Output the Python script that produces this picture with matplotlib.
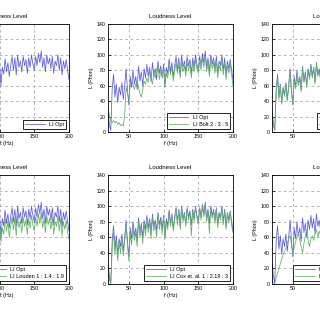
import numpy as np
import matplotlib
matplotlib.use("Agg")
import matplotlib.pyplot as plt

plt.rcParams['font.family'] = ['Liberation Sans', 'DejaVu Sans']

# frequencies, 2 Hz steps
f = np.arange(20, 201, 2)

li_opt = [28, 10, 2, 55, 75, 45, 62, 38, 58, 48, 64, 42, 60, 82, 55, 35, 72, 58, 80, 62,
          72, 55, 85, 66, 78, 60, 82, 70, 88, 72, 84, 65, 90, 74, 82, 68, 92, 76, 86, 70,
          88, 60, 84, 75, 95, 78, 90, 72, 86, 98, 80, 96, 74, 100, 84, 92, 78, 98, 86, 94,
          76, 96, 84, 100, 88, 80, 98, 86, 102, 90, 105, 84, 96, 78, 100, 88, 96, 82, 98, 76,
          92, 86, 100, 80, 96, 74, 92, 82, 94, 80, 68]

li_bolt = [30, 22, 15, 12, 15, 12, 14, 10, 12, 8, 10, 8, 22, 58, 50, 42, 60, 66, 62, 55,
           62, 66, 58, 50, 45, 55, 66, 62, 70, 64, 80, 70, 62, 76, 70, 82, 86, 68, 80, 72,
           82, 58, 76, 70, 88, 74, 84, 66, 80, 90, 76, 88, 70, 92, 78, 86, 72, 90, 80, 88,
           70, 90, 78, 94, 82, 76, 92, 80, 96, 84, 98, 78, 90, 72, 94, 82, 90, 76, 92, 70,
           86, 80, 94, 74, 90, 68, 86, 76, 88, 74, 60]

li_louden = [22, 8, 2, 40, 58, 32, 48, 28, 46, 36, 52, 32, 50, 68, 45, 28, 58, 46, 66, 50,
             60, 44, 72, 55, 65, 48, 70, 58, 75, 60, 72, 54, 78, 62, 70, 56, 80, 64, 74, 58,
             78, 54, 72, 64, 84, 68, 80, 60, 74, 86, 70, 84, 62, 88, 72, 82, 66, 86, 74, 82,
             64, 84, 72, 88, 76, 68, 86, 74, 90, 78, 92, 72, 84, 66, 88, 76, 84, 70, 86, 64,
             80, 74, 88, 68, 84, 62, 80, 70, 82, 66, 58]

li_cox = [20, 5, 0, 45, 68, 38, 56, 30, 52, 40, 58, 36, 55, 76, 50, 30, 66, 50, 74, 56,
          66, 48, 80, 60, 72, 52, 78, 62, 84, 66, 80, 58, 86, 68, 78, 60, 90, 70, 82, 64,
          86, 58, 80, 70, 92, 74, 88, 68, 82, 96, 76, 94, 70, 98, 80, 90, 74, 96, 82, 92,
          62, 94, 80, 98, 86, 76, 96, 82, 100, 86, 102, 80, 92, 65, 98, 84, 94, 78, 96, 72,
          90, 82, 98, 76, 94, 70, 90, 78, 92, 76, 66]

li_right_top = [24, 8, 4, 50, 70, 42, 60, 36, 56, 46, 62, 40, 58, 78, 52, 38, 68, 56, 76, 60,
                70, 52, 82, 64, 76, 58, 80, 68, 86, 70, 82, 62, 88, 72, 80, 66, 90, 74, 84, 68,
                86, 60, 82, 72, 92, 76, 88, 70, 84, 96, 78, 94, 72, 98, 82, 90, 76, 96, 84, 92,
                74, 94, 82, 98, 86, 78, 96, 84, 100, 88, 102, 82, 94, 76, 98, 86, 94, 80, 96, 74,
                90, 84, 98, 78, 94, 72, 90, 80, 92, 78, 66]

li_right_bot = [5, 2, 0, 8, 14, 20, 26, 32, 38, 42, 46, 52, 58, 62, 50, 40, 46, 54, 60, 66,
                56, 48, 40, 52, 62, 70, 56, 48, 58, 62, 56, 64, 70, 60, 68, 62, 76, 64, 72, 60,
                76, 56, 70, 64, 80, 68, 78, 62, 74, 84, 70, 82, 64, 86, 72, 80, 68, 84, 74, 80,
                66, 82, 74, 86, 76, 70, 84, 74, 88, 78, 90, 74, 84, 68, 86, 76, 82, 70, 84, 66,
                80, 74, 86, 70, 82, 64, 80, 72, 82, 68, 60]

panels = [
    (None, None),
    (li_bolt, 'LI Bolt 2 : 3 : 5'),
    (li_right_top, 'LI Zwicker 1 : 2.2 : 3'),
    (li_louden, 'LI Louden 1 : 1.4 : 1.9'),
    (li_cox, 'LI Cox et. al. 1 : 2.19 : 3'),
    (li_right_bot, 'LI Stevens et. al. 1 : 2.25 : 3.4'),
]

blue = '#5a5ae0'
green = '#62b062'

fig = plt.figure(figsize=(3.2, 3.2), dpi=100)
W, H = 320.0, 320.0
col_x = [-56, 108, 272]
row_y = [(24, 132), (175, 284)]
aw = 125

for i, (green_vals, label) in enumerate(panels):
    r, c = divmod(i, 3)
    top, bot = row_y[r]
    ax = fig.add_axes([col_x[c] / W, 1 - bot / H, aw / W, (bot - top) / H])
    ax.plot(f, li_opt, color=blue, lw=0.55, label='LI Opt')
    if green_vals is not None:
        ax.plot(f, green_vals, color=green, lw=0.55, label=label)
    ax.set_xlim(20, 200)
    ax.set_ylim(0, 140)
    ax.set_xticks([50, 100, 150, 200])
    ax.set_yticks(np.arange(0, 141, 20))
    ax.grid(True, color='#999999', linestyle=(0, (4, 4)), lw=0.5)
    ax.tick_params(direction='in', length=2, width=0.5, labelsize=3.8, pad=1.5)
    for s in ax.spines.values():
        s.set_linewidth(0.6)
    ax.set_title('Loudness Level', fontsize=4.3, pad=4.5)
    ax.set_xlabel('f (Hz)', fontsize=3.9, labelpad=1.5)
    ax.set_ylabel('L (Phon)', fontsize=3.9, labelpad=2)
    leg = ax.legend(loc='lower right', fontsize=4.0, handlelength=3.5,
                    fancybox=False, edgecolor='black', framealpha=1,
                    borderpad=0.4, labelspacing=0.3, handletextpad=0.8)
    leg.get_frame().set_linewidth(0.6)

fig.savefig('out.png', dpi=100)
